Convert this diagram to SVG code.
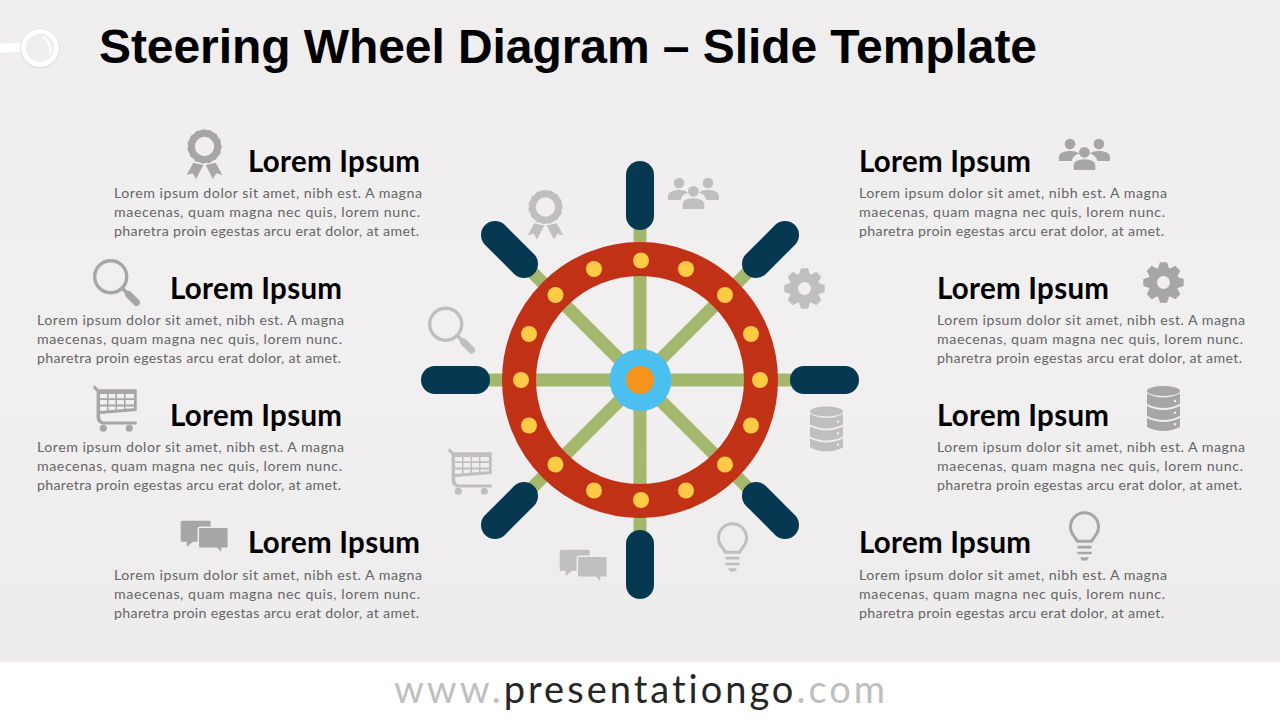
<svg xmlns="http://www.w3.org/2000/svg" xmlns:xlink="http://www.w3.org/1999/xlink" width="1280" height="720" viewBox="0 0 1280 720">
<style>
text{font-variant-ligatures:none}
.h{font:700 29.500px Lato,"Liberation Sans",sans-serif;fill:#000}
.b{font:400 14.200px Lato,"Liberation Sans",sans-serif;fill:#666}
.spoke{stroke:#A3B86C;stroke-width:13;fill:none}
.handle{fill:#063951}
.dot{fill:#FFCA45}
.d{fill:#A6A6A6;stroke:#A6A6A6}
.l{fill:#BFBFBF;stroke:#BFBFBF}
</style>
<defs>
<linearGradient id="bg" x1="0" y1="0" x2="0" y2="1"><stop offset="0" stop-color="#EFEDEE"/><stop offset=".55" stop-color="#F1EFF0"/><stop offset="1" stop-color="#EDEBEC"/></linearGradient>
<g id="ribbon">
<circle cx="17.500" cy="17.500" r="13.200" style="fill:none;stroke-width:7"/>
<circle cx="17.500" cy="17.500" r="15.800" style="fill:none;stroke-width:3.200;stroke-linecap:round;stroke-dasharray:.1 6.520"/>
<path stroke="none" d="M6.300 33.700 16.300 36 9 50 5.700 44.300-.3 46ZM28.700 33.700 18.700 36 26 50 29.300 44.300 35.300 46Z"/>
</g>
<g id="people" stroke="none">
<circle cx="11" cy="6" r="5.300"/><circle cx="39.900" cy="6" r="5.300"/><circle cx="25.400" cy="14.300" r="5.400"/>
<path d="M0 23V19Q0 13.500 11 12.800Q16.500 12.800 20.500 15.500Q14 17 12.500 23Z"/>
<path d="M51 23V19Q51 13.500 40 12.800Q34.500 12.800 30.500 15.500Q37 17 38.500 23Z"/>
<path d="M14.700 32V27Q14.700 22 25.500 21.300Q36.300 22 36.300 27V32Z"/>
</g>
<g id="magnifier">
<circle cx="17.700" cy="17.700" r="16" style="fill:none;stroke-width:3.400"/>
<path d="M29 29 35 35" style="fill:none;stroke-width:3.500"/>
<path d="M35.500 35.500 43.500 43.500" style="fill:none;stroke-width:7;stroke-linecap:round"/>
</g>
<g id="gear">
<circle cx="20.500" cy="20.500" r="10.800" style="fill:none;stroke-width:8.600"/>
<g stroke="none">
<path id="tooth" d="M17 .3H24L26.500 8H14.500Z"/>
<use xlink:href="#tooth" href="#tooth" transform="rotate(45 20.500 20.500)"/>
<use xlink:href="#tooth" href="#tooth" transform="rotate(90 20.500 20.500)"/>
<use xlink:href="#tooth" href="#tooth" transform="rotate(135 20.500 20.500)"/>
<use xlink:href="#tooth" href="#tooth" transform="rotate(180 20.500 20.500)"/>
<use xlink:href="#tooth" href="#tooth" transform="rotate(225 20.500 20.500)"/>
<use xlink:href="#tooth" href="#tooth" transform="rotate(270 20.500 20.500)"/>
<use xlink:href="#tooth" href="#tooth" transform="rotate(315 20.500 20.500)"/>
</g>
</g>
<g id="cart" stroke="none">
<path fill-rule="evenodd" d="M5.300 4.300H43.700V26L7 29V30Q7 36 11 36.500H43.700V39.500H10Q3.600 39 3.600 32V6.500L0 3 1.500 0ZM7 9V13.300H14V9ZM15.500 9V13.300H22.500V9ZM24 9V13.300H31V9ZM32.500 9V13.300H41V9ZM7 15V19.500H14V15ZM15.500 15V19.500H22.500V15ZM24 15V19.500H31V15ZM32.500 15V19.500H41V15ZM7 21.500V26L14 25.400V21.500ZM15.500 21.500V25.300L22.500 24.700V21.500ZM24 21.500V24.600L31 24V21.500ZM32.500 21.500V23.800L41 23.200V21.500Z"/>
<circle cx="10.300" cy="43.300" r="3.500"/><circle cx="36.300" cy="43.300" r="3.500"/>
</g>
<g id="db" stroke="none">
<path fill-rule="evenodd" d="M0 5A16.500 5 0 0 1 33 5A16.500 5 0 0 1 0 5ZM0 7.500Q16.500 15.500 33 7.500V18Q16.500 26 0 18ZM26.800 15A1.200 1.200 0 1 0 29.200 15A1.200 1.200 0 1 0 26.800 15ZM0 20Q16.500 28 33 20V30Q16.500 38 0 30ZM26.800 26.700A1.200 1.200 0 1 0 29.200 26.700A1.200 1.200 0 1 0 26.800 26.700ZM0 32Q16.500 40 33 32V41Q16.500 49 0 41ZM26.800 38.300A1.200 1.200 0 1 0 29.200 38.300A1.200 1.200 0 1 0 26.800 38.300Z"/>
</g>
<g id="chat-back"><path stroke="none" d="M2.200.7H29.200Q30.700.7 30.700 2.200V21.700H13L6.700 27V21.700H2.200Q.7 21.700 .7 20.200V2.200Q.7.7 2.200.7Z"/></g>
<g id="chat-front"><path d="M19.800 7.300H46.800Q48.300 7.300 48.300 8.800V26.800Q48.300 28.300 46.800 28.300H42V33.700L36.700 28.300H19.800Q18.300 28.300 18.300 26.800V8.800Q18.300 7.300 19.800 7.300Z"/></g>
<g id="bulb">
<path d="M8.500 29.300 4.200 23A14 14 0 1 1 26.800 23L22.500 29.300Z" style="fill:none;stroke-width:3"/>
<path stroke="none" d="M8.800 33.700H22.200Q23.500 35 22.200 36.400H8.800Q7.500 35 8.800 33.700ZM8.800 39.700H22.200Q23.500 41 22.200 42.300H8.800Q7.500 41 8.800 39.700ZM11 45.300H20L18 48.500H13Z"/>
</g>
</defs>
<rect id="background" width="1280" height="662" fill="url(#bg)"/>
<rect id="footer-band" y="662" width="1280" height="58" fill="#fff"/>
<g id="logo">
<path d="M0 43.500 24 42.700V51.700L0 53Z" fill="#fff"/>
<circle cx="40" cy="48.500" r="17" fill="none" stroke="#D9D7D8" stroke-width="5.500"/>
<circle cx="40" cy="48" r="16.500" fill="none" stroke="#fff" stroke-width="5"/>
<path d="M40 35.500A13.500 13.500 0 0 1 49 57A20 20 0 0 0 40 35.500Z" fill="#fff"/>
</g>
<text id="title" x="99" y="63" font-family="'Liberation Sans',Arial,sans-serif" font-weight="700" font-size="48" fill="#000" textLength="938">Steering Wheel Diagram – Slide Template</text>
<g id="connectors">
<path class="spoke" d="M640 225V535M485 380H795M530 270 750 490M750 270 530 490"/>
</g>
<g id="wheel">
<circle id="rim" cx="640" cy="380" r="121" fill="none" stroke="#C03116" stroke-width="34"/>
<g id="rim-dots">
<circle class="dot" cx="641" cy="260.500" r="8"/><circle class="dot" cx="686" cy="269" r="8"/><circle class="dot" cx="725" cy="295" r="8"/><circle class="dot" cx="751" cy="334" r="8"/>
<circle class="dot" cx="760" cy="380" r="8"/><circle class="dot" cx="751" cy="425.500" r="8"/><circle class="dot" cx="725" cy="464.500" r="8"/><circle class="dot" cx="686" cy="490.500" r="8"/>
<circle class="dot" cx="641" cy="500" r="8"/><circle class="dot" cx="594" cy="490.500" r="8"/><circle class="dot" cx="555.500" cy="464.500" r="8"/><circle class="dot" cx="529" cy="425.500" r="8"/>
<circle class="dot" cx="521" cy="380" r="8"/><circle class="dot" cx="529" cy="334" r="8"/><circle class="dot" cx="555.500" cy="295" r="8"/><circle class="dot" cx="594" cy="269" r="8"/>
</g>
<circle id="hub" cx="640.500" cy="380" r="31" fill="#4BBFF0"/>
<circle id="hub-core" cx="640" cy="380" r="14" fill="#F7941E"/>
</g>
<g id="handles">
<rect class="handle" x="626" y="161" width="28" height="69" rx="14"/>
<rect class="handle" x="626" y="530" width="28" height="69" rx="14"/>
<rect class="handle" x="421" y="366" width="69" height="28" rx="14"/>
<rect class="handle" x="790" y="366" width="69" height="28" rx="14"/>
<rect class="handle" x="475" y="235.500" width="69" height="28" rx="14" transform="rotate(45 509.500 249.500)"/>
<rect class="handle" x="736" y="235.500" width="69" height="28" rx="14" transform="rotate(-45 770.500 249.500)"/>
<rect class="handle" x="475" y="496.500" width="69" height="28" rx="14" transform="rotate(-45 509.500 510.500)"/>
<rect class="handle" x="736" y="496.500" width="69" height="28" rx="14" transform="rotate(45 770.500 510.500)"/>
</g>
<g id="wheel-icons" class="l">
<use xlink:href="#ribbon" href="#ribbon" x="528" y="189.500"/>
<use xlink:href="#people" href="#people" x="668" y="177"/>
<use xlink:href="#magnifier" href="#magnifier" x="428" y="306.500"/>
<use xlink:href="#gear" href="#gear" x="784" y="268"/>
<use xlink:href="#cart" href="#cart" x="448" y="448"/>
<use xlink:href="#db" href="#db" x="810" y="406.500"/>
<use xlink:href="#chat-back" href="#chat-back" x="559" y="549"/>
<use xlink:href="#chat-front" href="#chat-front" x="559" y="549" style="stroke:#F0EEEF;stroke-width:1.500"/>
<use xlink:href="#bulb" href="#bulb" x="717" y="523"/>
</g>
<g id="item-awards">
<use class="d" xlink:href="#ribbon" href="#ribbon" x="187" y="129"/>
<text class="h" x="248" y="172" textLength="172">Lorem Ipsum</text>
<text class="b" x="114" y="198" textLength="308">Lorem ipsum dolor sit amet, nibh est. A magna</text>
<text class="b" x="114" y="217" textLength="306">maecenas, quam magna nec quis, lorem nunc.</text>
<text class="b" x="114" y="236" textLength="305">pharetra proin egestas arcu erat dolor, at amet.</text>
</g>
<g id="item-search">
<use class="d" xlink:href="#magnifier" href="#magnifier" x="93" y="259"/>
<text class="h" x="170" y="299" textLength="172">Lorem Ipsum</text>
<text class="b" x="37" y="325" textLength="307">Lorem ipsum dolor sit amet, nibh est. A magna</text>
<text class="b" x="37" y="344" textLength="305">maecenas, quam magna nec quis, lorem nunc.</text>
<text class="b" x="37" y="363" textLength="304">pharetra proin egestas arcu erat dolor, at amet.</text>
</g>
<g id="item-cart">
<use class="d" xlink:href="#cart" href="#cart" x="93" y="385"/>
<text class="h" x="170" y="426" textLength="172">Lorem Ipsum</text>
<text class="b" x="37" y="452" textLength="307">Lorem ipsum dolor sit amet, nibh est. A magna</text>
<text class="b" x="37" y="471" textLength="305">maecenas, quam magna nec quis, lorem nunc.</text>
<text class="b" x="37" y="490" textLength="304">pharetra proin egestas arcu erat dolor, at amet.</text>
</g>
<g id="item-chat">
<g class="d"><use xlink:href="#chat-back" href="#chat-back" x="180" y="520"/><use xlink:href="#chat-front" href="#chat-front" x="180" y="520" style="stroke:#EFEDEE;stroke-width:1.500"/></g>
<text class="h" x="248" y="553" textLength="172">Lorem Ipsum</text>
<text class="b" x="114" y="580" textLength="308">Lorem ipsum dolor sit amet, nibh est. A magna</text>
<text class="b" x="114" y="599" textLength="306">maecenas, quam magna nec quis, lorem nunc.</text>
<text class="b" x="114" y="618" textLength="305">pharetra proin egestas arcu erat dolor, at amet.</text>
</g>
<g id="item-people">
<use class="d" xlink:href="#people" href="#people" x="1059" y="138"/>
<text class="h" x="859" y="172" textLength="172">Lorem Ipsum</text>
<text class="b" x="859" y="198" textLength="308">Lorem ipsum dolor sit amet, nibh est. A magna</text>
<text class="b" x="859" y="217" textLength="306">maecenas, quam magna nec quis, lorem nunc.</text>
<text class="b" x="859" y="236" textLength="305">pharetra proin egestas arcu erat dolor, at amet.</text>
</g>
<g id="item-gear">
<use class="d" xlink:href="#gear" href="#gear" x="1143" y="262"/>
<text class="h" x="937" y="299" textLength="172">Lorem Ipsum</text>
<text class="b" x="937" y="325" textLength="308">Lorem ipsum dolor sit amet, nibh est. A magna</text>
<text class="b" x="937" y="344" textLength="306">maecenas, quam magna nec quis, lorem nunc.</text>
<text class="b" x="937" y="363" textLength="305">pharetra proin egestas arcu erat dolor, at amet.</text>
</g>
<g id="item-database">
<use class="d" xlink:href="#db" href="#db" x="1147" y="386"/>
<text class="h" x="937" y="426" textLength="172">Lorem Ipsum</text>
<text class="b" x="937" y="452" textLength="308">Lorem ipsum dolor sit amet, nibh est. A magna</text>
<text class="b" x="937" y="471" textLength="306">maecenas, quam magna nec quis, lorem nunc.</text>
<text class="b" x="937" y="490" textLength="305">pharetra proin egestas arcu erat dolor, at amet.</text>
</g>
<g id="item-idea">
<use class="d" xlink:href="#bulb" href="#bulb" x="1069" y="512"/>
<text class="h" x="859" y="553" textLength="172">Lorem Ipsum</text>
<text class="b" x="859" y="580" textLength="308">Lorem ipsum dolor sit amet, nibh est. A magna</text>
<text class="b" x="859" y="599" textLength="306">maecenas, quam magna nec quis, lorem nunc.</text>
<text class="b" x="859" y="618" textLength="305">pharetra proin egestas arcu erat dolor, at amet.</text>
</g>
<text id="footer" x="394" y="703" font-family="Lato,'Liberation Sans',sans-serif" font-size="38" fill="#BFBFBF" textLength="491">www.<tspan fill="#262626">presentationgo</tspan>.com</text>
</svg>
